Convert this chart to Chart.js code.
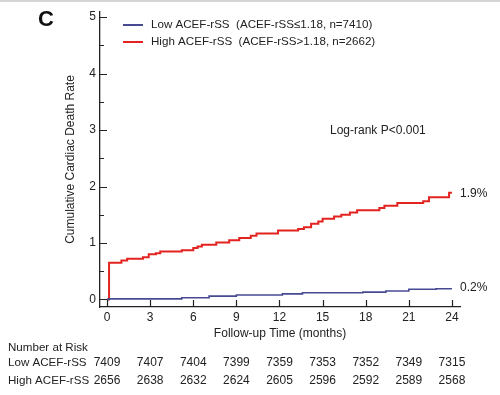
<!DOCTYPE html>
<html>
<head>
<meta charset="utf-8">
<script src="https://cdn.jsdelivr.net/npm/chart.js@4/dist/chart.umd.min.js"></script>
<style>
  html,body{margin:0;padding:0;background:#fff;}
  #wrap{width:500px;height:395px;position:relative;}
</style>
</head>
<body>
<div id="wrap"><canvas id="c" width="500" height="395"></canvas></div>
<script>
// ---- data ----
const xTicks = [0, 3, 6, 9, 12, 15, 18, 21, 24];
const lowLabel = "Low ACEF-rSS  (ACEF-rSS\u22641.18, n=7410)";
const highLabel = "High ACEF-rSS  (ACEF-rSS>1.18, n=2662)";
const lowTimes = [0, 0.1, 5.2, 7.1, 9.0, 12.2, 13.6, 17.8, 19.4, 21.0, 22.9, 24];
const lowRates = [0, 0.01, 0.03, 0.06, 0.08, 0.10, 0.12, 0.13, 0.15, 0.18, 0.19, 0.19];
const highTimes = [0, 0.14, 1.0, 1.4, 2.5, 2.9, 3.4, 3.7, 5.2, 6.0, 6.3, 6.6, 7.6, 8.5, 9.2, 10.0, 10.4, 11.9, 13.3, 13.7, 14.2, 14.7, 15.0, 15.8, 16.3, 16.9, 17.4, 18.95, 19.3, 20.2, 22.0, 22.4, 23.8, 24];
const highRates = [0, 0.65, 0.69, 0.72, 0.75, 0.80, 0.82, 0.85, 0.87, 0.91, 0.94, 0.97, 1.01, 1.05, 1.09, 1.13, 1.17, 1.22, 1.25, 1.28, 1.34, 1.38, 1.43, 1.47, 1.50, 1.54, 1.58, 1.62, 1.66, 1.71, 1.74, 1.81, 1.89, 1.89];
const riskGroups = ["Low ACEF-rSS", "High ACEF-rSS"];
const lowRisk = [7409, 7407, 7404, 7399, 7359, 7353, 7352, 7349, 7315];
const highRisk = [2656, 2638, 2632, 2624, 2605, 2596, 2592, 2589, 2568];
const endLabels = ["0.2%", "1.9%"];
const pText = "Log-rank P<0.001";

const FONT = "'Liberation Sans', Arial, sans-serif";
const TXT = '#222';
const BLUE = '#474992';
const RED = '#e3231f';

const toPts = (t, v) => t.map((x, i) => ({x: x, y: v[i]}));

const overlay = {
  id: 'overlay',
  afterDraw(chart) {
    const ctx = chart.ctx;
    const xs = chart.scales.x, ys = chart.scales.y;
    const area = chart.chartArea;
    ctx.save();
    // top border artifact
    ctx.fillStyle = '#d6d6d6';
    ctx.fillRect(0, 0, 500, 2);
    // inward ticks
    ctx.strokeStyle = '#222';
    ctx.lineWidth = 1.2;
    ctx.beginPath();
    for (let v = 0; v <= 5.001; v += 0.5) {
      const py = Math.round(ys.getPixelForValue(v)) + 0.5;
      const len = (Math.abs(v - Math.round(v)) < 1e-6) ? 7 : 4;
      ctx.moveTo(area.left, py);
      ctx.lineTo(area.left + len, py);
    }
    xTicks.forEach(t => {
      const px = Math.round(xs.getPixelForValue(t)) + 0.5;
      ctx.moveTo(px, area.bottom);
      ctx.lineTo(px, area.bottom - 7);
    });
    ctx.stroke();
    // legend
    ctx.font = '11.6px ' + FONT;
    ctx.textBaseline = 'middle';
    ctx.textAlign = 'left';
    const leg = [[chart.data.datasets[0], 25], [chart.data.datasets[1], 42]];
    leg.forEach(([ds, y]) => {
      ctx.strokeStyle = ds.borderColor;
      ctx.lineWidth = 2;
      ctx.beginPath();
      ctx.moveTo(123, y); ctx.lineTo(143, y); ctx.stroke();
      ctx.fillStyle = TXT;
      ctx.fillText(ds.label, 151, y);
    });
    // panel letter
    ctx.font = 'bold 22px ' + FONT;
    ctx.fillStyle = '#111';
    ctx.fillText('C', 38, 20);
    // p value
    ctx.font = '12px ' + FONT;
    ctx.fillStyle = TXT;
    ctx.fillText(pText, 330, 131);
    // end labels
    const lastLow = lowRates[lowRates.length - 1];
    const lastHigh = highRates[highRates.length - 1];
    ctx.fillText(endLabels[0], 460, ys.getPixelForValue(lastLow) - 1);
    ctx.fillText(endLabels[1], 460, ys.getPixelForValue(lastHigh) + 1);
    // number at risk table
    ctx.font = '11.6px ' + FONT;
    ctx.fillText('Number at Risk', 8, 348);
    ctx.fillText(riskGroups[0], 8, 363);
    ctx.fillText(riskGroups[1], 8, 381);
    ctx.font = '12px ' + FONT;
    ctx.textAlign = 'center';
    xTicks.forEach((t, i) => {
      const px = xs.getPixelForValue(t);
      ctx.fillText(String(lowRisk[i]), px, 363);
      ctx.fillText(String(highRisk[i]), px, 381);
    });
    ctx.restore();
  }
};

new Chart(document.getElementById('c'), {
  type: 'line',
  data: {
    datasets: [
      {label: lowLabel, data: toPts(lowTimes, lowRates), borderColor: BLUE, borderWidth: 1.6, stepped: true, pointRadius: 0, fill: false},
      {label: highLabel, data: toPts(highTimes, highRates), borderColor: RED, borderWidth: 2, stepped: true, pointRadius: 0, fill: false}
    ]
  },
  options: {
    responsive: false,
    animation: false,
    events: [],
    layout: {padding: {left: 0, right: 40, top: 12, bottom: 54}},
    plugins: {legend: {display: false}, tooltip: {enabled: false}},
    scales: {
      x: {
        type: 'linear', min: -0.49, max: 24.56,
        afterBuildTicks: s => { s.ticks = xTicks.map(v => ({value: v})); },
        afterFit: s => { s.height = 34; },
        grid: {display: false, drawTicks: false},
        border: {display: true, color: '#222', width: 1.3},
        ticks: {color: TXT, font: {family: FONT, size: 12}, padding: 3, maxRotation: 0, autoSkip: false},
        title: {display: true, text: 'Follow-up Time (months)', color: TXT, font: {family: FONT, size: 12}, padding: {top: 0, bottom: 0}}
      },
      y: {
        type: 'linear', min: -0.133, max: 5.09,
        afterBuildTicks: s => { s.ticks = [0,1,2,3,4,5].map(v => ({value: v})); },
        afterFit: s => { s.width = 100; },
        grid: {display: false, drawTicks: false},
        border: {display: true, color: '#222', width: 1.3},
        ticks: {color: TXT, font: {family: FONT, size: 12}, padding: 4},
        title: {display: true, text: 'Cumulative Cardiac Death Rate', color: TXT, font: {family: FONT, size: 12}, padding: {top: 63, bottom: 0}}
      }
    }
  },
  plugins: [overlay]
});
</script>
</body>
</html>
